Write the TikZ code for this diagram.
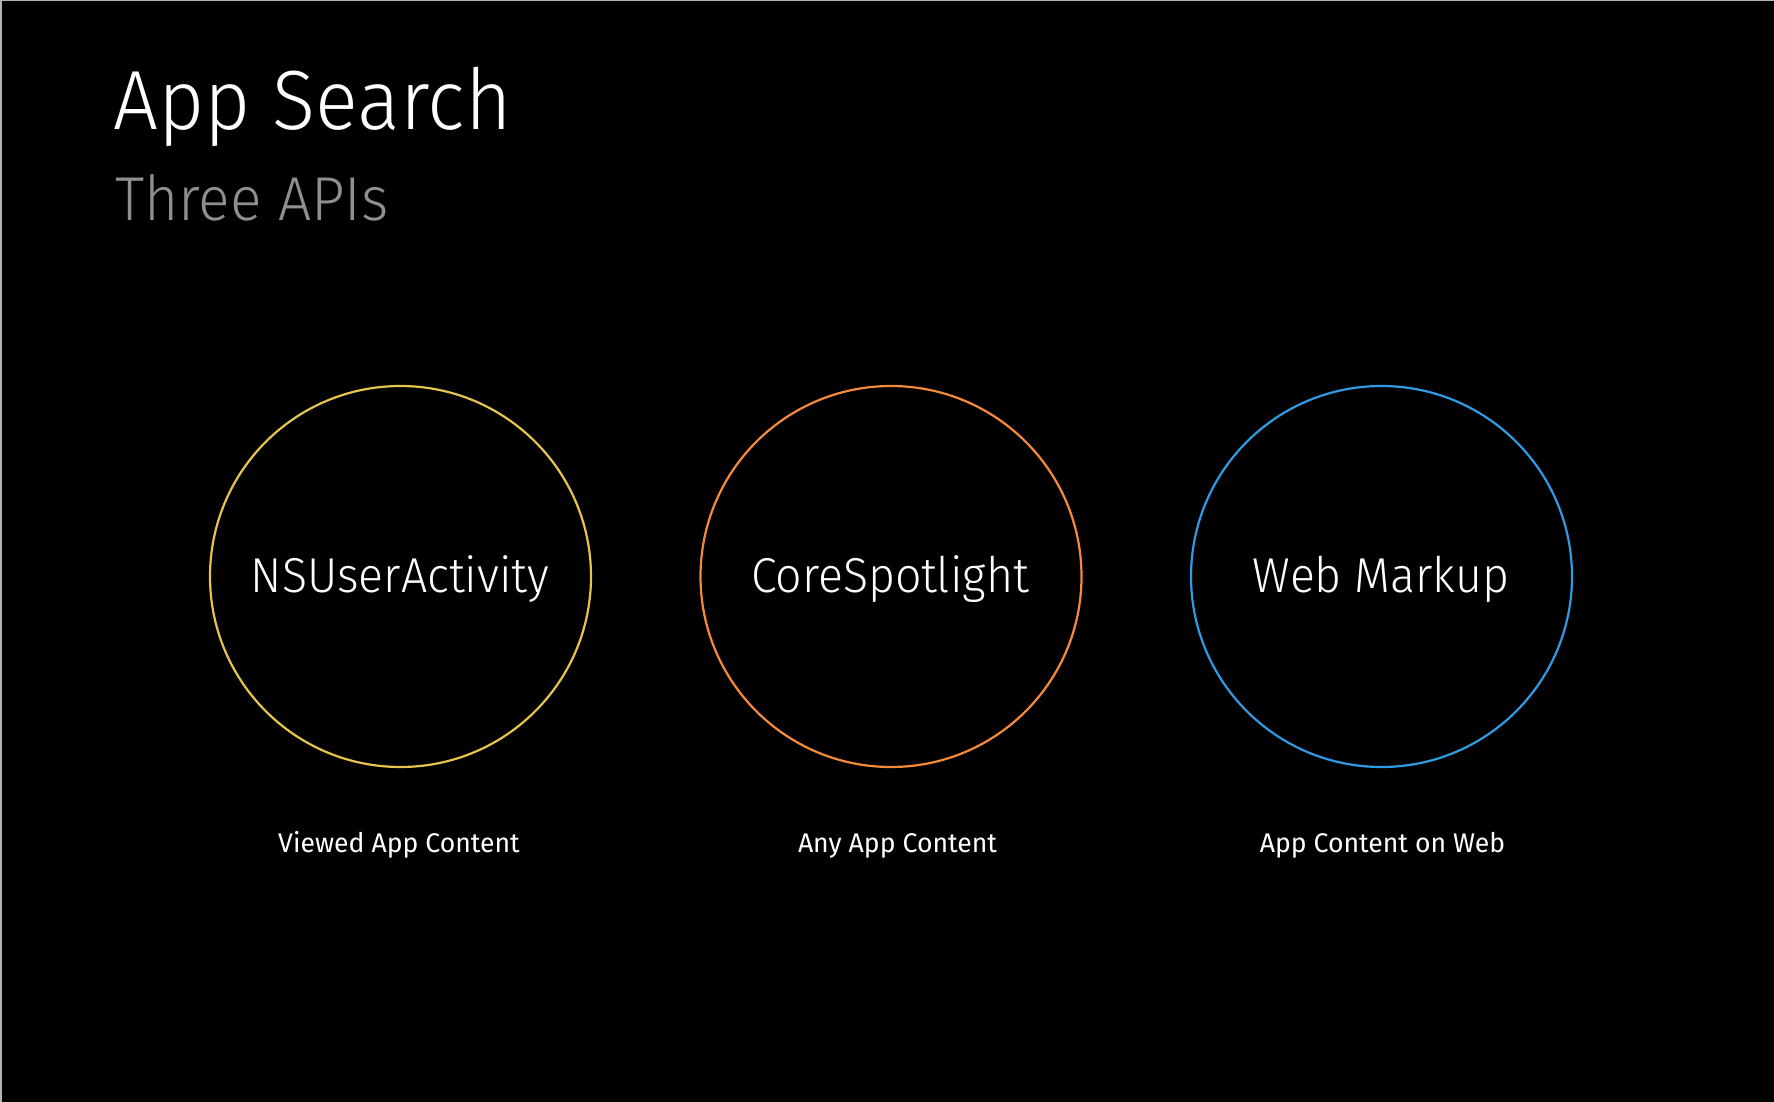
\documentclass[tikz,border=0pt]{standalone}
\usepackage{fontspec}
\setmainfont{Fira Sans Light}
\newfontfamily\bigfont{Fira Sans Light}[FakeStretch=0.948]
\newfontfamily\capfont{Fira Sans}[FakeStretch=0.985]
\definecolor{bg}{HTML}{000000}
\definecolor{subgray}{HTML}{8E8E93}
\definecolor{ringyellow}{HTML}{E6C44C}
\definecolor{ringorange}{HTML}{F58A3A}
\definecolor{ringblue}{HTML}{2F9BE4}
\definecolor{edgegray}{HTML}{B4B4B4}
\tikzset{
  ring/.style={circle, draw=#1, line width=2.2pt, minimum size=381pt, inner sep=0pt},
  ringtext/.style={anchor=base, text=white, font=\bigfont\fontsize{49}{55}\selectfont, inner sep=0pt},
  captext/.style={anchor=base, text=white, font=\capfont\fontsize{27}{32}\selectfont, inner sep=0pt},
}
\begin{document}
\begin{tikzpicture}[x=1pt,y=-1pt]
\fill[bg] (0,0) rectangle (1774,1102);
\useasboundingbox (0,0) rectangle (1774,1102);
\fill[edgegray] (0,0) rectangle (1774,1.2);
\fill[edgegray] (0,0) rectangle (2,1102);
\node[anchor=base west, inner sep=0pt, text=white, font=\bigfont\fontsize{84}{90}\selectfont] (title) at (113,130) {App Search};
\node[anchor=base west, inner sep=0pt, text=subgray, font=\bigfont\fontsize{62}{70}\selectfont] (subtitle) at (115,220) {Three APIs};
\node[ring=ringyellow] (c1) at (400.5,576.5) {};
\node[ring=ringorange] (c2) at (891,576.5) {};
\node[ring=ringblue] (c3) at (1381.5,576.5) {};
\node[ringtext] (t1) at (400,592) {NSUserActivity};
\node[ringtext] (t2) at (890,592) {CoreSpotlight};
\node[ringtext] (t3) at (1381,592) {Web Markup};
\node[captext] (l1) at (399,852) {Viewed App Content};
\node[captext] (l2) at (897.5,852) {Any App Content};
\node[captext] (l3) at (1382.5,852) {App Content on Web};
\end{tikzpicture}
\end{document}
